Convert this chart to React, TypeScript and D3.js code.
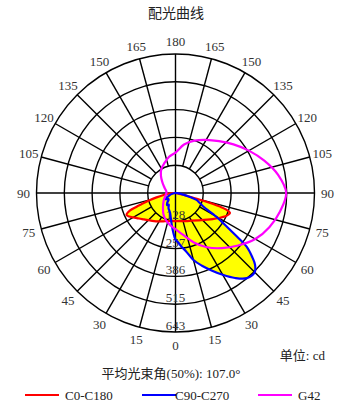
import React from 'react';
import * as d3 from 'd3';

const chartTitle = '配光曲线';
const unitLabel = '单位: cd';
const beamLabel = '平均光束角(50%): 107.0°';
const ringValues = [128, 257, 386, 515, 643];
const maxIntensity = 643;
const angleTicks = [0, 15, 30, 45, 60, 75, 90, 105, 120, 135, 150, 165, 180];
const gridAngles = [15, 30, 45, 60, 75, 105, 120, 135, 150, 165, 195, 210, 225, 240, 255, 285, 300, 315, 330, 345];

const seriesNames = ['C0-C180', 'C90-C270', 'G42'];
const seriesColors = ['#ff0000', '#0000ff', '#ff00ff'];

// signed angle from nadir (negative = left side)
const redAngles = [-90, -87, -84, -80.5, -77, -74.6, -73.3, -70.6, -69, -66, -63, -60, -55, -50, -40, -30, -20, -10, 0, 10, 20, 30, 40, 50, 55, 60, 65, 68, 70, 72, 73, 74.5, 75.7, 77, 80, 85, 90];
const redValues = [5, 22, 35, 56, 90, 122, 140, 191, 225, 248, 240, 225, 206, 190, 168, 152, 139, 132, 130, 132, 138, 148, 165, 192, 210, 231, 255, 265, 268, 245, 215, 134, 69, 30, 10, 3, 0];

const blueAngles = [-90, -75, -65, -60, -55, -50, -45, -40, -35, -30, -25, -20, -15, -10, -6, -3, 0, 3, 6, 10, 15, 20, 25, 30, 35, 40, 45, 48, 50, 53, 55, 58, 60, 64, 68, 72, 76, 80, 85, 90];
const blueValues = [2, 20, 37, 56, 50, 43, 45, 60, 68, 62, 77, 85, 96, 122, 155, 185, 216, 228, 248, 272, 321, 358, 395, 437, 480, 514, 518, 495, 465, 412, 335, 255, 215, 143, 120, 100, 55, 25, 8, 0];

const magentaAngles = [-180, -170, -160, -150, -140, -130, -120, -110, -100, -90, -80, -70, -60, -50, -40, -30, -20, -10, 0, 10, 20, 30, 40, 50, 60, 70, 80, 90, 100, 110, 120, 130, 140, 150, 160, 170];
const magentaValues = [187, 170, 148, 130, 105, 80, 62, 50, 43, 42, 45, 52, 62, 74, 90, 112, 132, 150, 167, 196, 242, 290, 333, 378, 426, 462, 491, 512, 482, 437, 392, 350, 313, 284, 258, 228];

const W = 361;
const H = 405;
const cx = 175.5;
const cy = 193;
const R = 139;
const FONT = "'Liberation Serif', 'Noto Sans CJK SC', serif";

const rScale = d3.scaleLinear().domain([0, maxIntensity]).range([0, R]);
const toRad = (deg: number) => (deg * Math.PI) / 180;
// nadir angle -> d3 radial angle (0 = up, clockwise)
const radialAngle = (deg: number) => toRad(180 - deg);

const line = d3
  .lineRadial<[number, number]>()
  .angle((d) => radialAngle(d[0]))
  .radius((d) => rScale(d[1]))
  .curve(d3.curveCatmullRomClosed.alpha(0.5));

const zip = (a: number[], v: number[]) => a.map((x, i) => [x, v[i]] as [number, number]);

const redPath = line(zip(redAngles, redValues)) || '';
const bluePath = line(zip(blueAngles, blueValues)) || '';
const magentaPath = line(zip(magentaAngles, magentaValues)) || '';

const pt = (deg: number, r: number) => [r * Math.sin(toRad(deg)), r * Math.cos(toRad(deg))];

export default function App() {
  const r1 = rScale(ringValues[0] * (maxIntensity / 5) / ringValues[0]);
  const labelR = 152;
  const tickLabels: { x: number; y: number; t: string }[] = [];
  angleTicks.forEach((a) => {
    const sides = a === 0 || a === 180 ? [1] : [1, -1];
    sides.forEach((s) => {
      const [x, y] = pt(a * s, labelR);
      tickLabels.push({ x, y, t: String(a) });
    });
  });
  const legendX = [25, 142, 258];
  const legendTextX = [65, 175, 298];
  return (
    <svg width={W} height={H} style={{ position: 'absolute', left: 0, top: 0, background: '#fff' }} fontFamily={FONT}>
      <rect width={W} height={H} fill="#fff" />
      <text x={176} y={13} fontSize={14} textAnchor="middle" dominantBaseline="central" fill="#222">{chartTitle}</text>
      <g transform={`translate(${cx},${cy})`}>
        <path d={redPath} fill="#ffff00" stroke="none" />
        <path d={bluePath} fill="#ffff00" stroke="none" />
        <g stroke="#000" strokeWidth={1.4} fill="none">
          {ringValues.map((v, i) => (
            <circle key={v} r={(R * (i + 1)) / 5} />
          ))}
          <line x1={-R} y1={0} x2={R} y2={0} />
          <line x1={0} y1={-R} x2={0} y2={R} />
          {gridAngles.map((a) => {
            const [x1, y1] = pt(a, R / 5);
            const [x2, y2] = pt(a, R);
            return <line key={a} x1={x1} y1={y1} x2={x2} y2={y2} />;
          })}
        </g>
        {ringValues.map((v, i) => (
          <text key={v} x={0} y={(R * (i + 1)) / 5 - 2} fontSize={13} textAnchor="middle" fill="#333">{v}</text>
        ))}
        <path d={redPath} fill="none" stroke={seriesColors[0]} strokeWidth={2.2} />
        <path d={bluePath} fill="none" stroke={seriesColors[1]} strokeWidth={2.2} />
        <path d={magentaPath} fill="none" stroke={seriesColors[2]} strokeWidth={2.2} />
        {tickLabels.map((l, i) => (
          <text key={i} x={l.x} y={l.y} fontSize={13} textAnchor="middle" dominantBaseline="central" fill="#333">{l.t}</text>
        ))}
      </g>
      <text x={325} y={355} fontSize={13} textAnchor="end" dominantBaseline="central" fill="#222">{unitLabel}</text>
      <text x={171} y={373} fontSize={13} textAnchor="middle" dominantBaseline="central" fill="#222">{beamLabel}</text>
      {seriesNames.map((n, i) => (
        <g key={n}>
          <line x1={legendX[i]} y1={395} x2={legendX[i] + 34} y2={395} stroke={seriesColors[i]} strokeWidth={2} />
          <text x={legendTextX[i]} y={395} fontSize={13} dominantBaseline="central" fill="#222">{n}</text>
        </g>
      ))}
    </svg>
  );
}
